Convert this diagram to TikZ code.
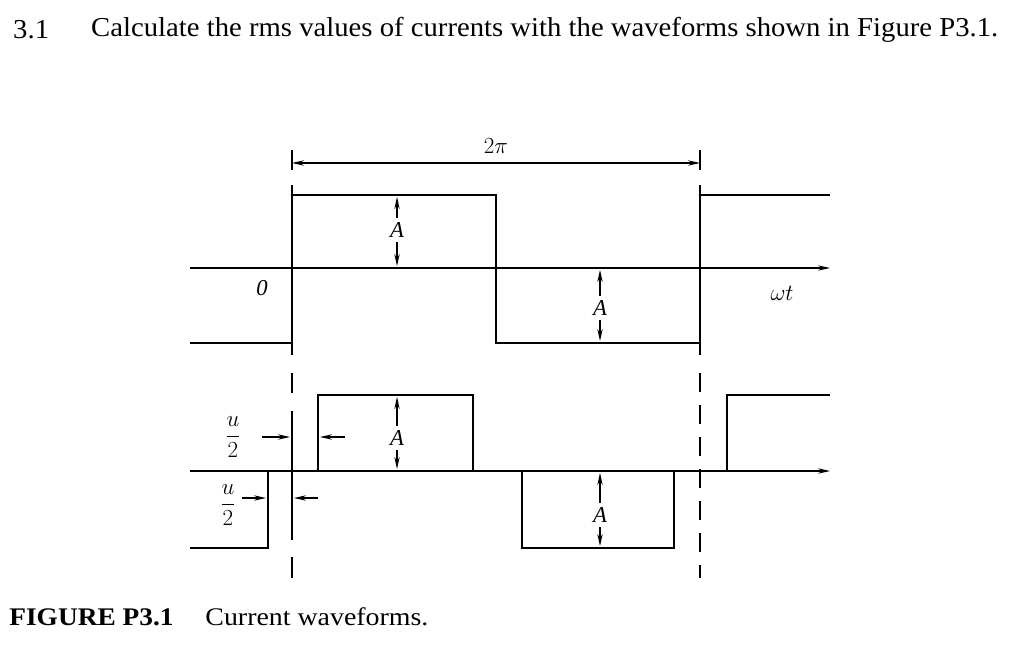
\documentclass[tikz,border=0pt]{standalone}
\usepackage{fontspec}
\setmainfont{Liberation Serif}
\usetikzlibrary{arrows.meta}
\begin{document}
\begin{tikzpicture}[x=0.75pt,y=-0.75pt,line width=0.8pt,
  arr/.style={-{Stealth[length=9pt,width=4pt]}},
  lbl/.style={font=\fontsize{17}{17}\selectfont\itshape},
  dsh/.style={dash pattern=on 14pt off 10pt}]
\useasboundingbox (0,0) rectangle (1024,652);
\node[anchor=west,font=\fontsize{20.5}{20.5}\selectfont,xscale=1.05] (num) at (8,30) {3.1};
\node[anchor=west,font=\fontsize{20.5}{20.5}\selectfont,xscale=1.05] (q) at (86,30) {Calculate the rms values of currents with the waveforms shown in Figure P3.1.};
\node[anchor=west,font=\fontsize{19}{19}\selectfont\bfseries,xscale=1.08] (fig) at (4,617) {FIGURE P3.1};
\node[anchor=west,font=\fontsize{19}{19}\selectfont,xscale=1.1] (cap) at (200,617) {Current waveforms.};
% top
\coordinate (a1) at (190,268); \coordinate (a2) at (830,268);
\draw[arr] (a1) -- (a2);
\draw (190,343) -- (292,343) -- (292,195) -- (496,195) -- (496,343) -- (700,343) -- (700,195) -- (830,195);
\draw (292,185) -- (292,355); \draw (700,185) -- (700,355);
\draw (292,150) -- (292,170); \draw (700,150) -- (700,170);
\coordinate (d1) at (292,163); \coordinate (d2) at (700,163);
\draw[{Stealth[length=9pt,width=4pt]}-{Stealth[length=9pt,width=4pt]}] (d1) -- (d2);
\node (tp) at (496,146) {\fontsize{18}{18}\selectfont$2\pi$};
\node[lbl] (At) at (397,230) {A};
\draw[arr] (At.north) -- (397,197); \draw[arr] (At.south) -- (397,266);
\node[lbl] (Ab) at (600,308) {A};
\draw[arr] (Ab.north) -- (600,270); \draw[arr] (Ab.south) -- (600,341);
\node[lbl] (z) at (262,288) {0};
\node (wt1) at (782,293) {\fontsize{17}{17}\selectfont$\omega t$};
% bottom
\draw[arr] (190,471) -- (830,471);
\draw (190,548) -- (268,548) -- (268,471);
\draw (318,471) -- (318,395) -- (473,395) -- (473,471);
\draw (522,471) -- (522,548) -- (674,548) -- (674,471);
\draw (727,471) -- (727,395) -- (830,395);
\draw (292,373) -- (292,393); \draw (292,411) -- (292,540); \draw (292,557) -- (292,578);
\draw[dsh] (700,373) -- (700,578);
\node[lbl] (A3) at (397,438) {A};
\draw[arr] (A3.north) -- (397,397); \draw[arr] (A3.south) -- (397,469);
\node[lbl] (A4) at (600,515) {A};
\draw[arr] (A4.north) -- (600,473); \draw[arr] (A4.south) -- (600,546);
\node (u1) at (233,437) {\fontsize{16}{16}\selectfont$\displaystyle\frac{u}{2}$};
\node (u2) at (228,505) {\fontsize{16}{16}\selectfont$\displaystyle\frac{u}{2}$};
\draw[arr] (262,437) -- (290,437); \draw[arr] (345,437) -- (320,437);
\draw[arr] (242,498) -- (266,498); \draw[arr] (318,498) -- (294,498);
\end{tikzpicture}
\end{document}
